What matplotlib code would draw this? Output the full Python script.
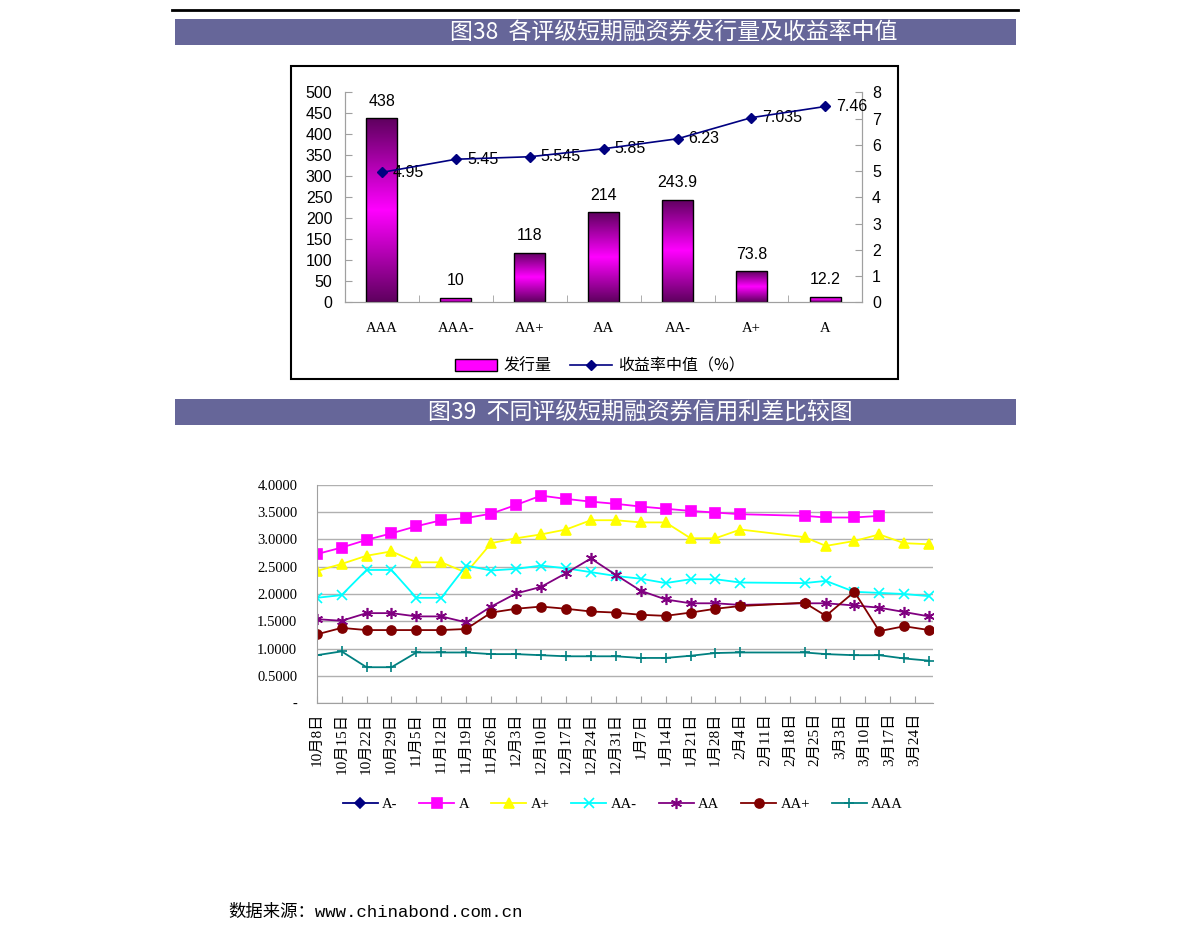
import numpy as np
import matplotlib
matplotlib.use('Agg')
import matplotlib.pyplot as plt
from matplotlib.colors import LinearSegmentedColormap
from matplotlib.patches import Rectangle, Patch
from matplotlib.lines import Line2D

plt.rcParams['font.family'] = ['Liberation Serif', 'Noto Sans CJK SC']
SANS = ['Liberation Sans', 'Noto Sans CJK SC']

# ---- 图38 data ----
grades = ['AAA', 'AAA-', 'AA+', 'AA', 'AA-', 'A+', 'A']
issue_amount = [438, 10, 118, 214, 243.9, 73.8, 12.2]
median_yield = [4.95, 5.45, 5.545, 5.85, 6.23, 7.035, 7.46]

# ---- 图39 data (days counted from 10月8日) ----
date_labels = ['10月8日', '10月15日', '10月22日', '10月29日', '11月5日', '11月12日',
               '11月19日', '11月26日', '12月3日', '12月10日', '12月17日', '12月24日',
               '12月31日', '1月7日', '1月14日', '1月21日', '1月28日', '2月4日',
               '2月11日', '2月18日', '2月25日', '3月3日', '3月10日', '3月17日', '3月24日']
days = [0, 7, 14, 21, 28, 35, 42, 49, 56, 63, 70, 77, 84, 91, 98, 105, 112, 119,
        137, 143, 151, 158, 165, 172]
nan = np.nan
spread_a_minus = [nan] * 24
spread_a = [2.73, 2.85, 2.99, 3.11, 3.24, 3.35, 3.39, 3.47, 3.63, 3.80, 3.74, 3.69,
            3.65, 3.60, 3.56, 3.52, 3.49, 3.46, 3.43, 3.40, 3.40, 3.43, nan, nan]
spread_a_plus = [2.42, 2.55, 2.70, 2.78, 2.58, 2.58, 2.39, 2.93, 3.02, 3.09, 3.18, 3.35,
                 3.35, 3.31, 3.31, 3.02, 3.02, 3.18, 3.04, 2.88, 2.97, 3.09, 2.93, 2.91]
spread_aa_minus = [1.93, 1.98, 2.44, 2.44, 1.93, 1.93, 2.52, 2.43, 2.46, 2.52, 2.47, 2.40,
                   2.33, 2.28, 2.20, 2.27, 2.27, 2.21, 2.20, 2.24, 2.04, 2.02, 2.00, 1.96]
spread_aa = [1.54, 1.51, 1.65, 1.65, 1.59, 1.59, 1.48, 1.77, 2.01, 2.13, 2.38, 2.65,
             2.35, 2.06, 1.90, 1.83, 1.83, 1.80, 1.83, 1.83, 1.79, 1.75, 1.67, 1.59]
spread_aa_plus = [1.26, 1.38, 1.34, 1.34, 1.34, 1.34, 1.36, 1.66, 1.73, 1.77, 1.73, 1.68,
                  1.66, 1.62, 1.60, 1.66, 1.73, 1.78, 1.84, 1.60, 2.04, 1.32, 1.41, 1.34]
spread_aaa = [0.88, 0.95, 0.66, 0.66, 0.93, 0.93, 0.93, 0.90, 0.90, 0.88, 0.86, 0.86,
              0.86, 0.83, 0.83, 0.87, 0.92, 0.93, 0.93, 0.90, 0.88, 0.88, 0.82, 0.78]

W, H = 1191.0, 943.0
fig = plt.figure(figsize=(W / 100, H / 100), dpi=100)


def fx(px):
    return px / W


def fy(py):
    return 1 - py / H


def banner(top, bottom, text, cx):
    fig.add_artist(Rectangle((fx(175), fy(bottom)), fx(1016) - fx(175), (bottom - top) / H,
                             transform=fig.transFigure, color='#666699', lw=0))
    fig.text(fx(cx), fy((top + bottom) / 2), text, color='white', fontsize=16.5,
             family='Noto Sans CJK SC', ha='center', va='center')


# top rule + banners
fig.add_artist(Line2D([fx(172), fx(1018)], [fy(10), fy(10)], transform=fig.transFigure,
                      color='black', lw=2))
banner(19, 45, '图38  各评级短期融资券发行量及收益率中值', 674)
banner(399, 425, '图39  不同评级短期融资券信用利差比较图', 640)

# ---------------- chart 1 ----------------
fig.add_artist(Rectangle((fx(291), fy(379)), (898 - 291) / W, (379 - 66) / H,
                         transform=fig.transFigure, fill=False, ec='black', lw=1.5))

ax1 = fig.add_axes([fx(345), fy(302.3), (862.3 - 345) / W, (302.3 - 92.3) / H])
x = np.arange(len(grades))
bars = ax1.bar(x, issue_amount, width=0.42, facecolor='none', edgecolor='black',
               lw=1, zorder=3)
cmap = LinearSegmentedColormap.from_list('bar', ['#5e005e', '#ff00ff', '#5e005e'])
grad = np.linspace(0, 1, 256).reshape(-1, 1)
for b in bars:
    im = ax1.imshow(grad, cmap=cmap, aspect='auto', zorder=2,
                    extent=[b.get_x(), b.get_x() + b.get_width(), 0, b.get_height()])
    im.set_clip_path(b)
for i, v in enumerate(issue_amount):
    ax1.annotate(f'{v:g}', (x[i], v), xytext=(0, 7), textcoords='offset points',
                 ha='center', va='bottom', fontsize=11.5, family=SANS)

ax1.set_xlim(-0.5, len(grades) - 0.5)
ax1.set_ylim(0, 500)
ax1.set_yticks(np.arange(0, 501, 50))
ax1.set_xticks(x)
ax1.set_xticklabels(grades, fontsize=10.5)
ax1.set_xticks(x[:-1] + 0.5, minor=True)
ax1.tick_params(axis='x', which='major', length=0, pad=14)
ax1.tick_params(axis='x', which='minor', length=5, direction='in', color='#a0a0a0')
ax1.tick_params(axis='y', direction='in', length=5, color='#a0a0a0', pad=9, labelsize=11.5)
for lab in ax1.get_yticklabels():
    lab.set_family(SANS)

ax2 = ax1.twinx()
ax2.plot(x, median_yield, color='#000080', marker='D', ms=5, lw=1.2, zorder=4)
for i, v in enumerate(median_yield):
    ax2.annotate(f'{v:g}', (x[i], v), xytext=(8, 0), textcoords='offset points',
                 ha='left', va='center', fontsize=11.5, family=SANS)
ax2.set_ylim(0, 8)
ax2.set_yticks(range(0, 9))
ax2.tick_params(axis='y', direction='in', length=5, color='#a0a0a0', pad=7, labelsize=11.5)
for lab in ax2.get_yticklabels():
    lab.set_family(SANS)

for a in (ax1, ax2):
    a.spines['top'].set_visible(False)
    for s in ('left', 'right', 'bottom'):
        a.spines[s].set_color('#a0a0a0')

h1 = Patch(facecolor='#ff00ff', edgecolor='black', lw=1)
h2 = Line2D([], [], color='#000080', marker='D', ms=5, lw=1.2)
fig.legend([h1, h2], ['发行量', '收益率中值（%）'], loc='center',
           bbox_to_anchor=(fx(600), fy(366)), ncol=2, frameon=False,
           prop={'family': 'Noto Sans CJK SC', 'size': 11.5}, handlelength=2.6,
           handletextpad=0.4, columnspacing=1.2)

# ---------------- chart 2 ----------------
ax3 = fig.add_axes([fx(316.7), fy(703.3), (932.7 - 316.7) / W, (703.3 - 484.7) / H])
series = [
    ('A-', spread_a_minus, '#000080', 'D', 5),
    ('A', spread_a, '#ff00ff', 's', 6.5),
    ('A+', spread_a_plus, '#ffff00', '^', 7.5),
    ('AA-', spread_aa_minus, '#00ffff', 'x', 7),
    ('AA', spread_aa, '#800080', (6, 2, 0), 8),
    ('AA+', spread_aa_plus, '#800000', 'o', 6.5),
    ('AAA', spread_aaa, '#008080', '+', 7.5),
]
for name, vals, col, mk, ms in series:
    ax3.plot(days, vals, color=col, marker=mk, ms=ms, mew=1.2, lw=1.3, label=name)

ax3.set_xlim(0, 173)
ax3.set_ylim(0, 4)
ax3.set_yticks(np.arange(0, 4.01, 0.5))
ax3.set_yticklabels(['-'] + [f'{v:.4f}' for v in np.arange(0.5, 4.01, 0.5)])
ax3.set_xticks(np.arange(0, 7 * len(date_labels), 7))
ax3.set_xticklabels(date_labels, rotation=90, ha='center', va='top', fontsize=11)
ax3.tick_params(axis='x', direction='in', length=5, color='#a0a0a0', pad=7)
ax3.tick_params(axis='y', length=0, pad=14, labelsize=10.5)
ax3.yaxis.grid(True, color='#b0b0b0', lw=1)
ax3.set_axisbelow(True)
ax3.spines['top'].set_visible(False)
ax3.spines['right'].set_visible(False)
ax3.spines['left'].set_color('#a0a0a0')
ax3.spines['bottom'].set_color('#a0a0a0')

fig.legend(*ax3.get_legend_handles_labels(), loc='center', bbox_to_anchor=(fx(623), fy(804)),
           ncol=7, frameon=False, fontsize=10.5, handlelength=2.4, handletextpad=0.3,
           columnspacing=1.5)

fig.text(fx(228), fy(912), '数据来源：www.chinabond.com.cn', fontsize=12.5, va='center',
         family=['Liberation Mono', 'Noto Sans CJK SC'])

fig.savefig('out.png', dpi=100)
